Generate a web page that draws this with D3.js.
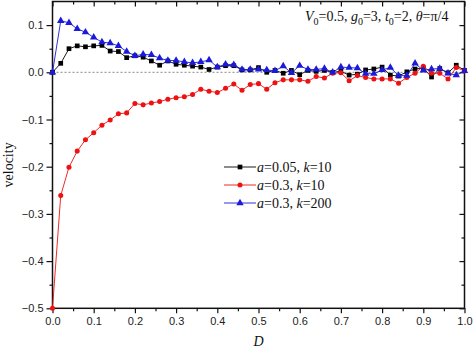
<!DOCTYPE html>
<html>
<head>
<meta charset="utf-8">
<script src="https://cdn.jsdelivr.net/npm/d3@7"></script>
<style>
  body { margin: 0; background: #fff; }
  svg { display: block; }
  .tick text { font-family: "Liberation Sans", Arial, sans-serif; font-size: 11px; fill: #222; }
</style>
</head>
<body>
<script>
// x positions (D)
var dValues = [0.00, 0.02, 0.04, 0.06, 0.08, 0.10, 0.12, 0.14, 0.16, 0.18,
               0.20, 0.22, 0.24, 0.26, 0.28, 0.30, 0.32, 0.34, 0.36, 0.38,
               0.40, 0.42, 0.44, 0.46, 0.48, 0.50, 0.52, 0.54, 0.56, 0.58,
               0.60, 0.62, 0.64, 0.66, 0.68, 0.70, 0.72, 0.74, 0.76, 0.78,
               0.80, 0.82, 0.84, 0.86, 0.88, 0.90, 0.92, 0.94, 0.96, 0.98, 1.00];

// a=0.05, k=10
var velA005K10 = [0.000, 0.019, 0.050, 0.056, 0.054, 0.056, 0.057, 0.045, 0.044, 0.031,
                  0.035, 0.032, 0.024, 0.015, 0.024, 0.017, 0.015, 0.013, 0.011, 0.006,
                  0.011, 0.014, 0.014, 0.005, 0.005, 0.010, 0.000, 0.004, -0.002, 0.004,
                  -0.005, 0.004, 0.002, 0.004, 0.000, 0.002, -0.006, -0.004, 0.005, 0.007,
                  0.011, -0.006, -0.008, 0.001, 0.007, 0.009, -0.010, 0.008, -0.001, 0.015, 0.004];

// a=0.3, k=10
var velA03K10 = [-0.500, -0.261, -0.201, -0.167, -0.143, -0.128, -0.112, -0.101, -0.088, -0.086,
                 -0.066, -0.069, -0.065, -0.062, -0.057, -0.054, -0.052, -0.047, -0.036, -0.040,
                 -0.043, -0.034, -0.025, -0.038, -0.026, -0.024, -0.036, -0.022, -0.016, -0.016,
                 -0.016, -0.019, -0.009, -0.012, -0.002, -0.001, -0.018, -0.007, -0.011, -0.014,
                 -0.014, -0.014, -0.023, -0.011, -0.002, 0.013, -0.002, -0.002, -0.014, 0.010, 0.003];

// a=0.3, k=200
var velA03K200 = [0.000, 0.109, 0.105, 0.092, 0.085, 0.074, 0.064, 0.062, 0.056, 0.044,
                  0.035, 0.038, 0.037, 0.030, 0.025, 0.025, 0.022, 0.020, 0.022, 0.026,
                  0.011, 0.017, 0.016, 0.006, 0.006, 0.006, 0.005, 0.003, 0.013, -0.001,
                  0.014, 0.006, 0.006, 0.008, 0.000, 0.011, 0.010, 0.009, -0.003, -0.003,
                  0.005, 0.010, -0.007, -0.007, 0.019, 0.004, 0.007, 0.008, -0.002, -0.006, 0.003];

var xTicks = [0.0, 0.1, 0.2, 0.3, 0.4, 0.5, 0.6, 0.7, 0.8, 0.9, 1.0];
var yTicks = [-0.5, -0.4, -0.3, -0.2, -0.1, 0.0, 0.1];
var xMinor = [0.05, 0.15, 0.25, 0.35, 0.45, 0.55, 0.65, 0.75, 0.85, 0.95];
var yMinor = [-0.45, -0.35, -0.25, -0.15, -0.05, 0.05];

var seriesNames = ["a=0.05, k=10", "a=0.3, k=10", "a=0.3, k=200"];

var W = 474, H = 354;
var plotLeft = 52.5, plotRight = 464.5, plotTop = 1.5, plotBottom = 308.3;

var svg = d3.select("body").append("svg")
    .attr("width", W)
    .attr("height", H);

var xScale = d3.scaleLinear().domain([0, 1]).range([plotLeft, plotRight]);
var yScale = d3.scaleLinear().domain([-0.5, 0.15]).range([plotBottom, plotTop]);

// zero reference line
svg.append("line")
    .attr("x1", xScale(0)).attr("x2", xScale(1))
    .attr("y1", yScale(0)).attr("y2", yScale(0))
    .attr("stroke", "#888").attr("stroke-width", 1)
    .attr("stroke-dasharray", "2,2");

// axes
function styleAxis(g){
    g.select(".domain").remove();
    g.selectAll(".tick line").attr("stroke", "#111").attr("stroke-width", 1.2);
}

var fmt = d3.format(".1f");

svg.append("g").attr("transform", "translate(0," + plotBottom + ")")
    .call(d3.axisBottom(xScale).tickValues(xTicks).tickFormat(fmt).tickSize(5).tickPadding(4))
    .call(styleAxis);
svg.append("g").attr("transform", "translate(0," + plotBottom + ")")
    .call(d3.axisBottom(xScale).tickValues(xMinor).tickFormat("").tickSize(3))
    .call(styleAxis);
svg.append("g").attr("transform", "translate(" + plotLeft + ",0)")
    .call(d3.axisLeft(yScale).tickValues(yTicks).tickFormat(fmt).tickSize(6).tickPadding(3))
    .call(styleAxis);
svg.append("g").attr("transform", "translate(" + plotLeft + ",0)")
    .call(d3.axisLeft(yScale).tickValues(yMinor).tickFormat("").tickSize(3))
    .call(styleAxis);
// top and right, ticks inward
svg.append("g").attr("transform", "translate(0," + plotTop + ")")
    .call(d3.axisBottom(xScale).tickValues(xTicks).tickFormat("").tickSize(5))
    .call(styleAxis);
svg.append("g").attr("transform", "translate(0," + plotTop + ")")
    .call(d3.axisBottom(xScale).tickValues(xMinor).tickFormat("").tickSize(3))
    .call(styleAxis);
svg.append("g").attr("transform", "translate(" + plotRight + ",0)")
    .call(d3.axisLeft(yScale).tickValues(yTicks).tickFormat("").tickSize(5))
    .call(styleAxis);
svg.append("g").attr("transform", "translate(" + plotRight + ",0)")
    .call(d3.axisLeft(yScale).tickValues(yMinor).tickFormat("").tickSize(3))
    .call(styleAxis);

// frame
svg.append("rect")
    .attr("x", plotLeft).attr("y", plotTop)
    .attr("width", plotRight - plotLeft).attr("height", plotBottom - plotTop)
    .attr("fill", "none").attr("stroke", "#111").attr("stroke-width", 1.5);

// series
var series = [
    {name: seriesNames[0], values: velA005K10, color: "#000000", symbol: d3.symbolSquare, size: 22},
    {name: seriesNames[1], values: velA03K10, color: "#ee1111", symbol: d3.symbolCircle, size: 20},
    {name: seriesNames[2], values: velA03K200, color: "#1a1ad8", symbol: d3.symbolTriangle, size: 24}
];

var line = d3.line()
    .x(function(d){ return xScale(d[0]); })
    .y(function(d){ return yScale(d[1]); });

series.forEach(function(s){
    var pts = dValues.map(function(x, i){ return [x, s.values[i]]; });
    svg.append("path")
        .datum(pts)
        .attr("d", line)
        .attr("fill", "none")
        .attr("stroke", s.color)
        .attr("stroke-width", 0.9);
    svg.selectAll(null)
        .data(pts)
        .enter()
        .append("path")
        .attr("d", d3.symbol().type(s.symbol).size(s.size))
        .attr("transform", function(d){ return "translate(" + xScale(d[0]) + "," + yScale(d[1]) + ")"; })
        .attr("fill", s.color);
});

// legend
var legend = svg.append("g").attr("transform", "translate(224,167)");
series.forEach(function(s, i){
    var row = legend.append("g").attr("transform", "translate(0," + (i * 18) + ")");
    row.append("line").attr("x1", 0).attr("x2", 32).attr("y1", 0).attr("y2", 0)
        .attr("stroke", s.color).attr("stroke-width", 0.9);
    row.append("path").attr("d", d3.symbol().type(s.symbol).size(s.size))
        .attr("transform", "translate(16,0)").attr("fill", s.color);
    var parts = s.name.split(", ");
    var t = row.append("text").attr("x", 33).attr("y", 5)
        .style("font-family", "'Liberation Serif', 'Times New Roman', serif")
        .style("font-size", "14px").attr("fill", "#111");
    t.append("tspan").style("font-style", "italic").text(parts[0].split("=")[0]);
    t.append("tspan").text("=" + parts[0].split("=")[1] + ", ");
    t.append("tspan").style("font-style", "italic").text(parts[1].split("=")[0]);
    t.append("tspan").text("=" + parts[1].split("=")[1]);
});

// parameter annotation
var ann = svg.append("text").attr("x", 305).attr("y", 21)
    .style("font-family", "'Liberation Serif', 'Times New Roman', serif")
    .style("font-size", "14px").attr("fill", "#111");
var annParts = [["V", "0", "=0.5, "], ["g", "0", "=3, "], ["t", "0", "=2, "], ["\u03b8", "", "=\u03c0/4"]];
annParts.forEach(function(p){
    ann.append("tspan").style("font-style", "italic").text(p[0]);
    if (p[1]) {
        ann.append("tspan").attr("dy", 4).style("font-size", "10px").text(p[1]);
        ann.append("tspan").attr("dy", -4).text(p[2]);
    } else {
        ann.append("tspan").text(p[2]);
    }
});

// axis titles
svg.append("text")
    .attr("transform", "translate(13," + ((plotTop + plotBottom) / 2 + 10) + ") rotate(-90)")
    .attr("text-anchor", "middle")
    .style("font-family", "'Liberation Serif', 'Times New Roman', serif")
    .style("font-size", "14px").attr("fill", "#111")
    .text("velocity");

svg.append("text")
    .attr("x", (plotLeft + plotRight) / 2).attr("y", 346)
    .attr("text-anchor", "middle")
    .style("font-family", "'Liberation Serif', 'Times New Roman', serif")
    .style("font-style", "italic")
    .style("font-size", "14px").attr("fill", "#111")
    .text("D");
</script>
</body>
</html>
